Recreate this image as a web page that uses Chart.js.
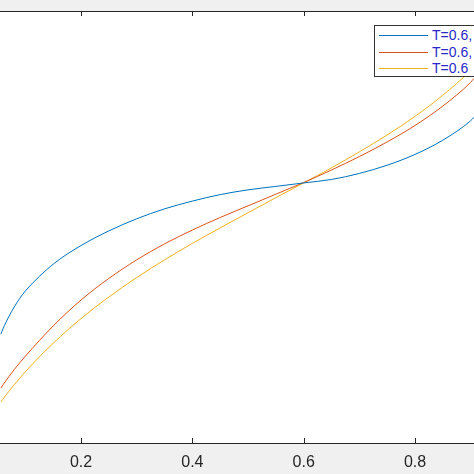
<!DOCTYPE html>
<html>
<head>
<meta charset="utf-8">
<script src="https://cdn.jsdelivr.net/npm/chart.js@4.4.0/dist/chart.umd.min.js"></script>
<style>
    body { margin: 0; overflow: hidden; background: #f0f0f0; }
    #wrap { position: relative; width: 474px; height: 474px; overflow: hidden; }
    #legendBox {
        position: absolute; left: 374px; top: 25px; width: 130px; height: 52px;
        background: #fff; border: 1px solid #333; box-sizing: border-box;
        font-family: "Liberation Sans", Arial, sans-serif; font-size: 14px; color: #2a2ac8;
    }
    .row { position: absolute; left: 4px; height: 16px; white-space: nowrap; }
    .swatch { position: absolute; left: 0; top: 8px; width: 49px; height: 0; border-top: 1px solid; }
    .lbl { position: absolute; left: 53px; top: 0; line-height: 16px; }
</style>
</head>
<body>
<div id="wrap">
    <canvas id="curveChart" width="474" height="474"></canvas>
    <div id="legendBox"></div>
</div>
<script>
// values (y in arbitrary units, 0..1 of the visible axes)
const xValues = [0.056, 0.06, 0.065, 0.07, 0.08, 0.09, 0.1, 0.15, 0.2, 0.25, 0.3, 0.35, 0.4, 0.45, 0.5, 0.55, 0.6, 0.65, 0.7, 0.75, 0.8, 0.85, 0.9, 0.906];
const blueValues = [0.252, 0.265, 0.279, 0.292, 0.315, 0.335, 0.352, 0.414, 0.457, 0.491, 0.519, 0.542, 0.560, 0.575, 0.586, 0.594, 0.602, 0.610, 0.624, 0.643, 0.668, 0.701, 0.746, 0.754];
const redValues = [0.127, 0.135, 0.144, 0.153, 0.170, 0.186, 0.201, 0.271, 0.331, 0.381, 0.424, 0.461, 0.493, 0.522, 0.549, 0.576, 0.603, 0.632, 0.663, 0.697, 0.735, 0.780, 0.835, 0.844];
const yellowValues = [0.095, 0.102, 0.111, 0.119, 0.135, 0.150, 0.165, 0.231, 0.288, 0.338, 0.383, 0.424, 0.462, 0.498, 0.533, 0.568, 0.602, 0.637, 0.674, 0.713, 0.756, 0.805, 0.862, 0.870];
const seriesLabels = ['T=0.6,', 'T=0.6,', 'T=0.6'];
const xTicks = [0.2, 0.4, 0.6, 0.8];

const lineColors = ['#0072BD', '#D95319', '#EDB120'];

function toPoints(ys) {
    return xValues.map((x, i) => ({ x: x, y: ys[i] }));
}

const allSeries = [blueValues, redValues, yellowValues];

const datasets = allSeries.map((ys, i) => ({
    label: seriesLabels[i],
    data: toPoints(ys),
    borderColor: lineColors[i],
    borderWidth: 1,
    pointRadius: 0,
    cubicInterpolationMode: 'monotone',
    fill: false
}));

// gray figure background, white axes area
const backdrop = {
    id: 'backdrop',
    beforeDraw(chart) {
        const c = chart.ctx, a = chart.chartArea;
        c.save();
        c.fillStyle = '#f0f0f0';
        c.fillRect(0, 0, chart.width, chart.height);
        c.fillStyle = '#ffffff';
        c.fillRect(a.left, a.top, a.right - a.left, a.bottom - a.top);
        c.restore();
    }
};

// matlab style inward tick marks on bottom and top axes
const inwardTicks = {
    id: 'inwardTicks',
    afterDraw(chart) {
        const c = chart.ctx, a = chart.chartArea;
        const sx = chart.scales.x;
        c.save();
        c.strokeStyle = '#262626';
        c.lineWidth = 1;
        xTicks.forEach(v => {
            const px = Math.round(sx.getPixelForValue(v)) + 0.5;
            c.beginPath();
            c.moveTo(px, a.bottom);
            c.lineTo(px, a.bottom - 5);
            c.moveTo(px, a.top);
            c.lineTo(px, a.top + 5);
            c.stroke();
        });
        c.restore();
    }
};

const ctx = document.getElementById('curveChart').getContext('2d');

const config = {
    type: 'line',
    data: { datasets: datasets },
    options: {
        responsive: false,
        animation: false,
        layout: { padding: 0 },
        plugins: {
            legend: { display: false },
            tooltip: { enabled: false }
        },
        scales: {
            x: {
                type: 'linear',
                position: 'bottom',
                min: 0.0544,
                max: 0.906,
                afterBuildTicks: scale => { scale.ticks = xTicks.map(v => ({ value: v })); },
                afterFit: scale => { scale.height = 31; },
                grid: { display: true, drawOnChartArea: false, drawTicks: false },
                border: { display: true, color: '#262626', width: 1 },
                ticks: {
                    padding: 10,
                    color: '#262626',
                    font: { family: 'Liberation Sans', size: 16 },
                    maxRotation: 0,
                    callback: v => v.toFixed(1)
                }
            },
            xTop: {
                type: 'linear',
                position: 'top',
                min: 0.0544,
                max: 0.906,
                afterFit: scale => { scale.height = 11; },
                grid: { display: true, drawOnChartArea: false, drawTicks: false },
                border: { display: true, color: '#262626', width: 1 },
                ticks: { display: false }
            },
            y: {
                display: false,
                min: 0,
                max: 1
            }
        }
    },
    plugins: [backdrop, inwardTicks]
};

const curveChart = new Chart(ctx, config);

// legend overlay, opaque like the matlab one
const legendBox = document.getElementById('legendBox');
seriesLabels.forEach((label, i) => {
    const row = document.createElement('div');
    row.className = 'row';
    row.style.top = (1 + i * 16.5) + 'px';
    row.innerHTML = `<span class="swatch" style="border-color:${lineColors[i]}"></span><span class="lbl">${label}</span>`;
    legendBox.appendChild(row);
});
</script>
</body>
</html>
